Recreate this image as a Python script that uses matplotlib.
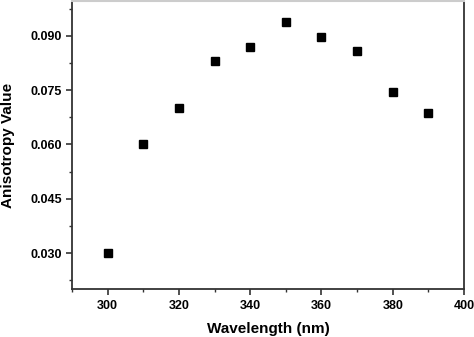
import matplotlib
matplotlib.use("Agg")
import matplotlib.pyplot as plt
from matplotlib.ticker import MultipleLocator, FormatStrFormatter

wavelength_nm = [300, 310, 320, 330, 340, 350, 360, 370, 380, 390]
anisotropy = [0.0299, 0.0601, 0.0701, 0.0831, 0.0869, 0.0938, 0.0898, 0.0857, 0.0744, 0.0686]

x_ticks = [300, 320, 340, 360, 380, 400]
y_ticks = [0.030, 0.045, 0.060, 0.075, 0.090]

plt.rcParams['font.family'] = ['Liberation Sans', 'DejaVu Sans']
plt.rcParams['font.weight'] = 'bold'

fig = plt.figure(figsize=(4.74, 3.37), dpi=100)
ax = fig.add_axes([72 / 474, 1 - 289 / 337, 392 / 474, 288 / 337])

ax.plot(wavelength_nm, anisotropy, linestyle='none', marker='s',
        markersize=5.2, color='black')

ax.set_xlim(290, 400)
ax.set_ylim(0.0201, 0.0996)
ax.set_xticks(x_ticks)
ax.set_yticks(y_ticks)
ax.xaxis.set_minor_locator(MultipleLocator(10))
ax.yaxis.set_minor_locator(MultipleLocator(0.0075))
ax.yaxis.set_major_formatter(FormatStrFormatter('%.3f'))

ax.tick_params(which='major', direction='out', length=4, width=1.2,
               color='#333333', labelsize=9, pad=3)
ax.tick_params(which='minor', direction='out', length=2.5, width=1.0,
               color='#333333')
ax.tick_params(axis='x', which='major', pad=4)
for lbl in ax.get_xticklabels() + ax.get_yticklabels():
    lbl.set_fontweight('bold')

for side in ['left', 'bottom', 'right']:
    ax.spines[side].set_color('#333333')
    ax.spines[side].set_linewidth(1.3)
ax.spines['top'].set_color('#cccccc')
ax.spines['top'].set_linewidth(1.5)

ax.set_xlabel('Wavelength (nm)', fontsize=11, fontweight='bold')
ax.set_ylabel('Anisotropy Value', fontsize=11, fontweight='bold')
ax.xaxis.set_label_coords(0.5, -(329 - 289) / 288, transform=ax.transAxes)
ax.yaxis.set_label_coords((8 - 72) / 392, 0.5)
ax.xaxis.label.set_va('center')
ax.yaxis.label.set_va('center')

fig.savefig('out.png', dpi=100)
